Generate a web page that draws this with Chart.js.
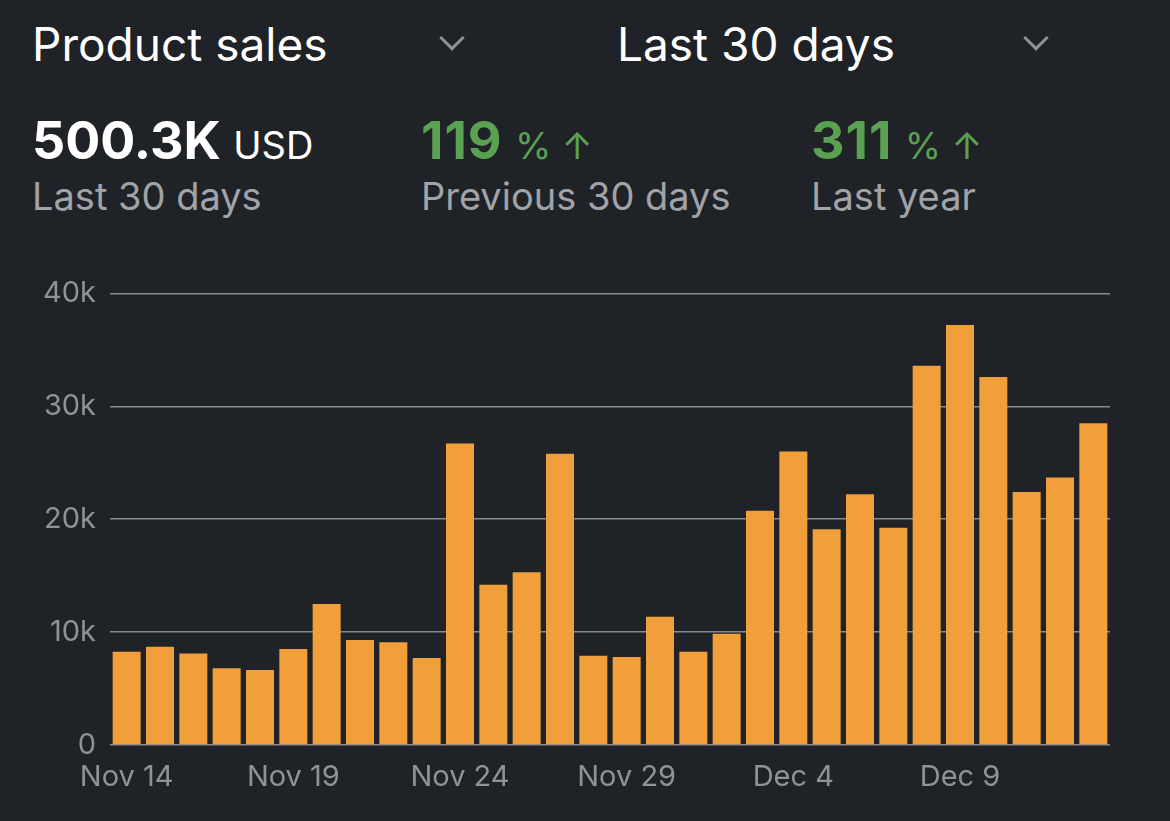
<!DOCTYPE html>
<html>
<head>
<meta charset="utf-8">
<script src="https://cdn.jsdelivr.net/npm/chart.js@4/dist/chart.umd.min.js"></script>
<style>
	html, body { margin: 0; padding: 0; background: #1f2226; }
	body { width: 1170px; height: 821px; position: relative; overflow: hidden; font-family: Inter, Roboto, sans-serif; }
	.t { position: absolute; white-space: nowrap; line-height: 1; }
	.title { font-size: 46px; color: #ffffff; top: 21px; }
	.chev { position: absolute; width: 15px; height: 15px; border-right: 3px solid #8e9196; border-bottom: 3px solid #8e9196; transform: rotate(45deg); top: 29px; }
	.big { font-size: 52px; font-weight: 700; color: #ffffff; top: 115px; }
	.big small { font-size: 38px; font-weight: 400; }
	.green { color: #5aa152; }
	.green .n { letter-spacing: 1px; }
	.green small { font-size: 37px; font-weight: 400; }
	.sub { font-size: 38px; color: #a0a3a8; top: 177px; }
	#wrap { position: absolute; left: 0; top: 262px; width: 1170px; height: 548px; }
</style>
</head>
<body>
<div class="t title" style="left:32px">Product sales</div>
<div class="chev" style="left:443px"></div>
<div class="t title" style="left:617px">Last 30 days</div>
<div class="chev" style="left:1027px"></div>

<div class="t big" style="left:32px">500.3K <small>USD</small></div>
<div class="t big green" style="left:421px"><span class="n">119</span> <small>% ↑</small></div>
<div class="t big green" style="left:811px"><span class="n">311</span> <small>% ↑</small></div>

<div class="t sub" style="left:32px">Last 30 days</div>
<div class="t sub" style="left:421px">Previous 30 days</div>
<div class="t sub" style="left:811px">Last year</div>

<div id="wrap"><canvas id="sales"></canvas></div>

<script>
const days = [
	'Nov 14', 'Nov 15', 'Nov 16', 'Nov 17', 'Nov 18', 'Nov 19', 'Nov 20', 'Nov 21', 'Nov 22', 'Nov 23',
	'Nov 24', 'Nov 25', 'Nov 26', 'Nov 27', 'Nov 28', 'Nov 29', 'Nov 30', 'Dec 1', 'Dec 2', 'Dec 3',
	'Dec 4', 'Dec 5', 'Dec 6', 'Dec 7', 'Dec 8', 'Dec 9', 'Dec 10', 'Dec 11', 'Dec 12', 'Dec 13'
];
const sales = [
	8250, 8700, 8100, 6800, 6650, 8500, 12500, 9300, 9100, 7700,
	26700, 14200, 15300, 25800, 7900, 7800, 11350, 8250, 9850, 20750,
	26000, 19100, 22200, 19250, 33600, 37200, 32600, 22400, 23700, 28500
];
const yTicks = [0, 10000, 20000, 30000, 40000];

window.addEventListener('DOMContentLoaded', function() {
	const canvas = document.getElementById('sales');

	new Chart(canvas.getContext('2d'), {
		type: 'bar',
		data: {
			labels: days,
			datasets: [{
				label: 'Sales',
				data: sales,
				backgroundColor: '#f09f3a',
				borderWidth: 0,
				barPercentage: 0.84,
				categoryPercentage: 1
			}]
		},
		options: {
			responsive: true,
			maintainAspectRatio: false,
			animation: false,
			layout: { padding: { top: 20, right: 60 } },
			plugins: { legend: { display: false }, tooltip: { enabled: false } },
			scales: {
				x: {
					grid: { display: false },
					border: { display: false },
					ticks: {
						autoSkip: false,
						maxRotation: 0,
						color: '#8f9297',
						font: { family: 'Inter', size: 29 },
						padding: 7,
						callback: function(value, index) {
							return index % 5 === 0 ? days[index] : '';
						}
					},
					afterFit: function(axis) { axis.height = 65; }
				},
				y: {
					min: 0,
					max: 40000,
					afterBuildTicks: function(axis) {
						axis.ticks = yTicks.map(v => ({ value: v }));
					},
					grid: { color: '#85888d', lineWidth: 1.5, drawTicks: false },
					border: { display: false },
					ticks: {
						color: '#8f9297',
						font: { family: 'Inter', size: 29 },
						padding: 14,
						callback: function(value) {
							return value === 0 ? '0' : (value / 1000) + 'k';
						}
					},
					afterFit: function(axis) { axis.width = 110; }
				}
			}
		}
	});
});
</script>
</body>
</html>
